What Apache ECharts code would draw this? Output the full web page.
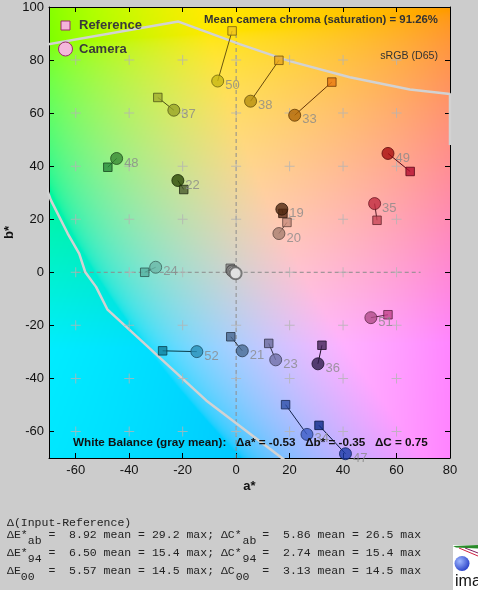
<!DOCTYPE html>
<html><head><meta charset="utf-8">
<script src="https://cdn.jsdelivr.net/npm/echarts@6/dist/echarts.min.js"></script>
<style>html,body{margin:0;padding:0;background:#cccccc;}#c{width:478px;height:590px;}</style>
</head><body><div id="c"></div>
<script>
// ---- axis ranges & ticks ----
const xMin = -70, xMax = 80, yMin = -70, yMax = 100;
const xTicks = [-60, -40, -20, 0, 20, 40, 60, 80];
const yTicks = [-60, -40, -20, 0, 20, 40, 60, 80, 100];
const crossA = [-60, -40, -20, 0, 20, 40, 60];
const crossB = [-60, -40, -20, 0, 20, 40, 60, 80];

// ---- patch data (a*, b*) ----
const patchIds = ['50','38','33','37','48','22','49','35','20','19','24','52','21','23','36','51','34','47','','',''];
const refA = [-1.5, 16.0, 35.8, -29.3, -48.0, -19.6, 65.1, 52.7, 19.0, 17.5, -34.2, -27.5, -2.0, 12.2, 32.1, 56.8, 18.5, 31.0, -2.2, -1.5, -1.0];
const refB = [91.0, 79.9, 71.7, 65.9, 39.6, 31.2, 38.0, 19.6, 18.8, 22.2, 0.0, -29.6, -24.3, -26.8, -27.5, -16.0, -49.9, -57.7, 1.5, 0.8, 0.3];
const camA = [-6.9, 5.4, 21.9, -23.3, -44.7, -21.8, 56.8, 51.8, 16.0, 17.1, -30.1, -14.7, 2.3, 14.8, 30.6, 50.4, 26.5, 40.9, -1.5, -0.8, -0.2];
const camB = [72.1, 64.5, 59.2, 61.1, 42.9, 34.6, 44.8, 25.9, 14.6, 23.8, 1.9, -29.9, -29.6, -33.0, -34.5, -17.1, -61.1, -68.4, 0.5, 0.0, -0.4];

// ---- patch colours (style) ----
const refColor = ['#f0c420','#e8a41c','#e87810','#a0ac30','#2a8c3c','#4c5c30','#b40c30','#c84858','#c88c7c','#60301c','#58b0a0','#10809c','#4a6890','#6c6c9c','#442458','#c0448a','#3050a8','#0c2c88','#909090','#b0b0b0','#d0d0d0'];
const camColor = ['#c8b814','#b89010','#b06808','#98a428','#3a8a34','#2c4808','#a80c10','#c02c40','#a88070','#502810','#6cb8a8','#2890b8','#4a6c94','#7070a8','#301c4c','#b04c88','#3c5cc4','#1c3ca8','#808080','#b8b8b8','#eeeeee'];

// ---- sRGB gamut boundary (a*, b*) ----
const gamutUpper = [[-86.2,83.2],[-21.6,94.5],[1.3,86.0],[20.0,79.6],[42.5,73.5],[65.0,68.9],[80.0,67.2],[80.0,48.0]];
const gamutLower = [[-74,40],[-69.3,27.2],[-63,14.6],[-58.7,7],[-56.4,0],[-52.4,-5.5],[-48.1,-14.1],[-11.2,-48.3],[17.5,-70.3],[23,-74.5]];
const zeroLineH = [[-60,0],[69,0]];
const zeroLineV = [[0,-70],[0,89.5]];

// ---- helpers ----
function darken(hex, f){
  const n = parseInt(hex.slice(1),16);
  const r = Math.round(((n>>16)&255)*f), g = Math.round(((n>>8)&255)*f), b = Math.round((n&255)*f);
  return 'rgb('+r+','+g+','+b+')';
}
function lab2rgb(L,a,b){
  const fy=(L+16)/116, fx=fy+a/500, fz=fy-b/200;
  const inv=t=> t>6/29 ? t*t*t : 3*(6/29)*(6/29)*(t-4/29);
  const X=0.95047*inv(fx), Y=inv(fy), Z=1.08883*inv(fz);
  let r=3.2406*X-1.5372*Y-0.4986*Z, g=-0.9689*X+1.8758*Y+0.0415*Z, bb=0.0557*X-0.2040*Y+1.0570*Z;
  const gm=v=>{v=Math.max(0,Math.min(1,v));return v<=0.0031308?12.92*v:1.055*Math.pow(v,1/2.4)-0.055;};
  return [gm(r)*255,gm(g)*255,gm(bb)*255];
}
// background colour field (a*b* plane, lightness rising toward +b*)
const bgCanvas = document.createElement('canvas');
bgCanvas.width = 300; bgCanvas.height = 340;
(function(){
  const ctx = bgCanvas.getContext('2d');
  const img = ctx.createImageData(300,340);
  for(let j=0;j<340;j++){
    for(let i=0;i<300;i++){
      const a = xMin + (i+0.5)/300*(xMax-xMin);
      const b = yMax - (j+0.5)/340*(yMax-yMin);
      const c = lab2rgb(84 + 0.08*b, a, b);
      const k=(j*300+i)*4;
      img.data[k]=c[0];img.data[k+1]=c[1];img.data[k+2]=c[2];img.data[k+3]=255;
    }
  }
  ctx.putImageData(img,0,0);
})();

const crossPts = [];
crossB.forEach(b=>crossA.forEach(a=>crossPts.push([a,b])));

const refData = refA.map((a,i)=>({value:[a,refB[i]], itemStyle:{color:refColor[i], borderColor:darken(refColor[i],0.5), borderWidth:1}}));
const camData = camA.map((a,i)=>({value:[a,camB[i]], name:patchIds[i], itemStyle:{color:camColor[i], borderColor: i===camA.length-1 ? '#606060' : darken(camColor[i],0.55), borderWidth: i===camA.length-1 ? 2 : 1}}));
const linkData = refA.map((a,i)=>[a,refB[i],camA[i],camB[i],i]);

const font = '"Liberation Sans", Arial, sans-serif';
const mono = '"Liberation Mono", "Courier New", monospace';

const axisCommon = {
  type:'value',
  axisLine:{show:true, onZero:false, lineStyle:{color:'#000', width:1}},
  splitLine:{show:false}
};

const chart = echarts.init(document.getElementById('c'), null, {renderer:'canvas'});

const CW = 6.93, MX = 7;
const monoLines = [
  {y:534.5, text:'ΔE*   =  8.92 mean = 29.2 max; ΔC*   =  5.86 mean = 26.5 max', subs:[[3,'ab'],[34,'ab']]},
  {y:552.5, text:'ΔE*   =  6.50 mean = 15.4 max; ΔC*   =  2.74 mean = 15.4 max', subs:[[3,'94'],[34,'94']]},
  {y:570.5, text:'ΔE    =  5.57 mean = 14.5 max; ΔC    =  3.13 mean = 14.5 max', subs:[[2,'00'],[33,'00']]}
];
const gEls = [];
gEls.push({type:'text', x:MX, y:522.5, z:100, style:{text:'Δ(Input-Reference)', font:'11.5px '+mono, fill:'#222', align:'left', verticalAlign:'middle'}});
monoLines.forEach(l=>{
  gEls.push({type:'text', x:MX, y:l.y, z:100, style:{text:l.text, font:'11.5px '+mono, fill:'#222', align:'left', verticalAlign:'middle'}});
  l.subs.forEach(s=>gEls.push({type:'text', x:MX+s[0]*CW, y:l.y+6, z:100, style:{text:s[1], font:'11.5px '+mono, fill:'#222', align:'left', verticalAlign:'middle'}}));
});
// legend
gEls.push({type:'rect', z:100, shape:{x:61, y:21, width:9, height:9}, style:{fill:'#f4b4dc', stroke:'#a02870', lineWidth:1}});
gEls.push({type:'circle', z:100, shape:{cx:65.5, cy:49, r:7}, style:{fill:'#f4b8dc', stroke:'#a02870', lineWidth:1}});
gEls.push({type:'text', x:79, y:25.5, z:100, style:{text:'Reference', font:'bold 13px '+font, fill:'#3a3a3a', align:'left', verticalAlign:'middle'}});
gEls.push({type:'text', x:79, y:49.5, z:100, style:{text:'Camera', font:'bold 13px '+font, fill:'#3a3a3a', align:'left', verticalAlign:'middle'}});
// annotations
gEls.push({type:'text', x:438, y:20, z:100, style:{text:'Mean camera chroma (saturation) = 91.26%', font:'bold 11.4px '+font, fill:'#333', align:'right', verticalAlign:'middle'}});
gEls.push({type:'text', x:438, y:56, z:100, style:{text:'sRGB (D65)', font:'10.6px '+font, fill:'#333', align:'right', verticalAlign:'middle'}});
gEls.push({type:'text', x:73, y:442.5, z:100, style:{text:'White Balance (gray mean):   Δa* = -0.53   Δb* = -0.35   ΔC = 0.75', font:'bold 11.7px '+font, fill:'#111', align:'left', verticalAlign:'middle'}});
// logo
gEls.push({type:'rect', z:100, shape:{x:453, y:545, width:25, height:45}, style:{fill:'#fff'}});
gEls.push({type:'polygon', z:101, shape:{points:[[453,546],[478,545],[478,548.5],[456,547.5]]}, style:{fill:'#2a8a2a'}});
gEls.push({type:'line', z:101, shape:{x1:459, y1:548, x2:478, y2:556}, style:{stroke:'#d02040', lineWidth:1}});
gEls.push({type:'line', z:101, shape:{x1:465, y1:548, x2:478, y2:553}, style:{stroke:'#802060', lineWidth:1}});
gEls.push({type:'circle', z:101, shape:{cx:462, cy:563.5, r:7.5}, style:{fill:new echarts.graphic.RadialGradient(0.35,0.35,0.8,[{offset:0,color:'#a0b8ff'},{offset:1,color:'#1830c0'}])}});
gEls.push({type:'text', x:455, y:582, z:101, style:{text:'ima', font:'16px '+font, fill:'#111', align:'left', verticalAlign:'middle'}});

const tickCfg = vals => ({show:true, inside:true, length:5, lineStyle:{color:'#000'}, customValues:vals});

const option = {
  backgroundColor:'#cccccc',
  animation:false,
  grid:{left:49, right:28, top:7, bottom:132, containLabel:false, outerBoundsMode:'none'},
  xAxis:[
    Object.assign({}, axisCommon, {min:xMin, max:xMax, position:'bottom', name:'a*', nameLocation:'middle', nameGap:22, nameMoveOverlap:false,
      nameTextStyle:{fontFamily:font, fontWeight:'bold', fontSize:13, color:'#111'},
      axisTick:tickCfg(xTicks),
      axisLabel:{show:true, margin:6, fontFamily:font, fontSize:13, color:'#111', customValues:xTicks}}),
    Object.assign({}, axisCommon, {min:xMin, max:xMax, position:'top',
      axisTick:tickCfg(xTicks), axisLabel:{show:false}})
  ],
  yAxis:[
    Object.assign({}, axisCommon, {min:yMin, max:yMax, position:'left', name:'b*', nameLocation:'middle', nameGap:33, nameRotate:90, nameMoveOverlap:false,
      nameTextStyle:{fontFamily:font, fontWeight:'bold', fontSize:13, color:'#111'},
      axisTick:tickCfg(yTicks),
      axisLabel:{show:true, margin:5, fontFamily:font, fontSize:13, color:'#111', customValues:yTicks}}),
    Object.assign({}, axisCommon, {min:yMin, max:yMax, position:'right',
      axisTick:tickCfg(yTicks), axisLabel:{show:false}})
  ],
  graphic:{elements:gEls},
  series:[
    {type:'custom', z:-1, silent:true, clip:true, data:[[xMin,yMax,xMax,yMin]],
      renderItem:function(params, api){
        const p0 = api.coord([api.value(0), api.value(1)]);
        const p1 = api.coord([api.value(2), api.value(3)]);
        return {type:'image', style:{image:bgCanvas, x:p0[0], y:p0[1], width:p1[0]-p0[0], height:p1[1]-p0[1]}};
      }},
    {type:'scatter', z:1, silent:true, data:crossPts, symbol:'path://M9,0h2v9h9v2h-9v9h-2v-9h-9v-2h9z', symbolSize:10,
      itemStyle:{color:'#b4b4b4'}},
    {type:'line', z:1, silent:true, data:zeroLineV, symbol:'none', lineStyle:{color:'#8c8c8c', width:1, type:[4,3]}},
    {type:'line', z:1, silent:true, data:zeroLineH, symbol:'none', lineStyle:{color:'#8c8c8c', width:1, type:[4,3]}},
    {type:'line', z:1, silent:true, data:gamutUpper, symbol:'none', clip:true, lineStyle:{color:'#d2d2d2', width:2.5}},
    {type:'line', z:1, silent:true, data:gamutLower, symbol:'none', clip:true, lineStyle:{color:'#d2d2d2', width:2.5}},
    {type:'custom', z:2, silent:true, clip:true, data:linkData,
      renderItem:function(params, api){
        const p0 = api.coord([api.value(0), api.value(1)]);
        const p1 = api.coord([api.value(2), api.value(3)]);
        const i = api.value(4);
        return {type:'line', shape:{x1:p0[0], y1:p0[1], x2:p1[0], y2:p1[1]}, style:{stroke:darken(refColor[i],0.45), lineWidth:1}};
      }},
    {type:'scatter', name:'Reference', z:3, silent:true, symbol:'rect', symbolSize:8.5, data:refData},
    {type:'scatter', name:'Camera', z:4, silent:true, symbol:'circle', symbolSize:12, data:camData,
      label:{show:true, position:[14,11], align:'left', verticalAlign:'middle', formatter:p=>p.name, color:'#8a8a8a', fontFamily:font, fontSize:13}}
  ]
};
chart.setOption(option);
</script>
</body></html>
